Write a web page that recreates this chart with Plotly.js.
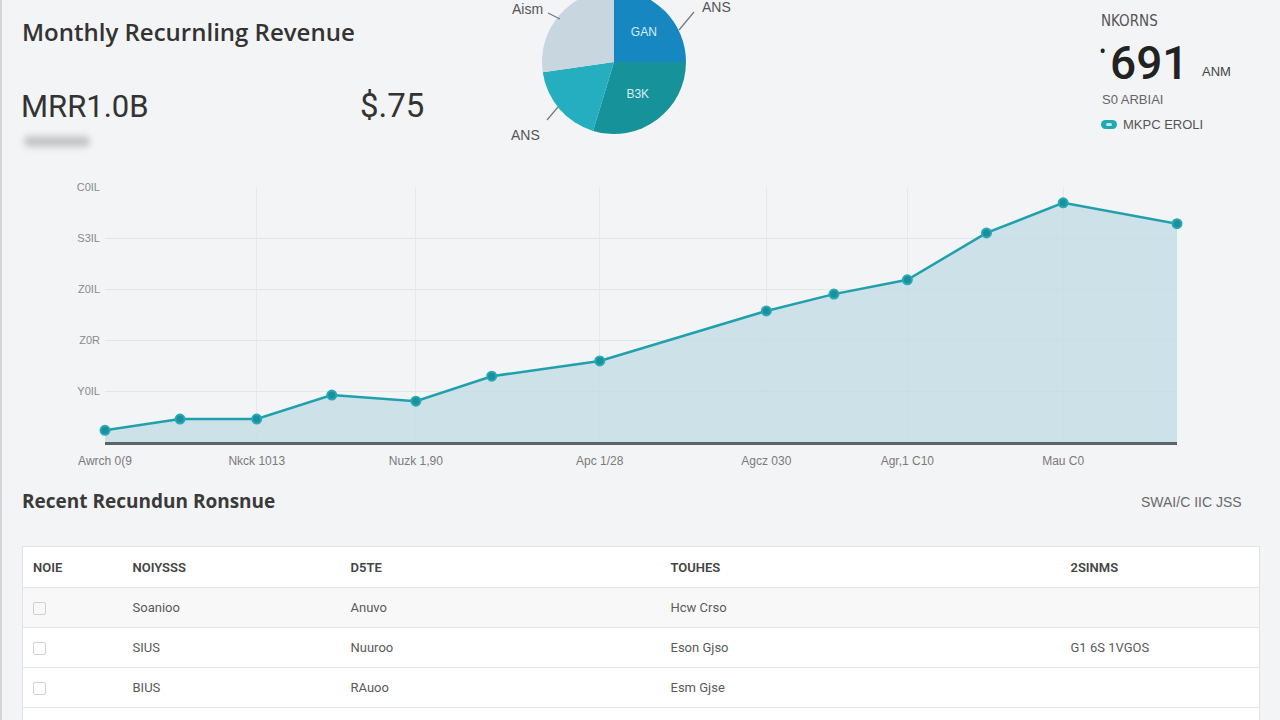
<!DOCTYPE html>
<html>
<head>
<meta charset="utf-8">
<script src="https://cdn.plot.ly/plotly-3.0.1.min.js"></script>
<style>
  html, body { margin:0; padding:0; width:1280px; height:720px; overflow:hidden; background:#f3f4f5; font-family:"Open Sans", Roboto, sans-serif; }
  #page { position:absolute; left:0; top:0; width:1280px; height:720px; border-left:2px solid #d4d6d8; box-sizing:border-box; }
  #chart { position:absolute; left:0; top:-12px; width:1280px; height:744px; }
  .t { position:absolute; white-space:nowrap; line-height:1; }
  table { position:absolute; left:20px; top:546px; width:1238px; border-collapse:collapse; table-layout:fixed; background:#fff; border:1px solid #e0e2e4; font-family:Roboto, sans-serif; }
  td, th { height:39px; padding:0; text-align:left; border-bottom:1px solid #e3e5e7; font-size:13px; color:#5a5a5a; }
  th { height:40px; font-weight:600; color:#444; }
  td:first-child, th:first-child { padding-left:10px; }
  tr.alt td { background:#f8f8f8; }
  .cb { display:inline-block; width:11px; height:11px; border:1px solid #cfd2d4; border-radius:2px; vertical-align:middle; }
</style>
</head>
<body>
<div id="page">
  <div id="chart"></div>
  <div class="t" style="left:20px;top:20px;font-size:24px;font-weight:600;color:#333;">Monthly Recurnling Revenue</div>
  <div class="t" style="left:19px;top:91px;font-size:31px;font-family:Roboto;color:#333;">MRR1.0B</div>
  <div class="t" style="left:358px;top:89px;font-size:33px;font-family:Roboto;color:#333;">$.75</div>
  <div style="position:absolute;left:22px;top:136px;width:66px;height:11px;background:#c4c6c8;border-radius:5px;filter:blur(3px);"></div>

  <div class="t" style="left:1099px;top:14px;font-size:15px;color:#555;font-family:'DejaVu Sans Condensed','Liberation Sans Narrow',sans-serif;">NKORNS</div>
  <div class="t" style="left:1098px;top:44px;font-size:14px;color:#222;font-weight:700;">•</div>
  <div class="t" style="left:1108px;top:40px;font-size:46px;font-weight:500;color:#222;font-family:Roboto;">691</div>
  <div class="t" style="left:1200px;top:65px;font-size:13px;color:#444;font-family:'Liberation Sans Narrow',sans-serif;">ANM</div>
  <div class="t" style="left:1100px;top:93px;font-size:13px;color:#666;font-family:'Liberation Sans Narrow',sans-serif;">S0 ARBIAI</div>
  <div style="position:absolute;left:1099px;top:120px;width:16px;height:9px;border-radius:5px;background:#1ea9b3;"></div>
  <div style="position:absolute;left:1104px;top:123px;width:6px;height:3px;border-radius:2px;background:#bfe9ee;"></div>
  <div class="t" style="left:1121px;top:118px;font-size:13px;color:#555;font-family:'Liberation Sans Narrow',sans-serif;">MKPC EROLI</div>

  <div class="t" style="left:20px;top:492px;font-size:19px;font-weight:700;color:#3a3a3a;">Recent Recundun Ronsnue</div>
  <div class="t" style="left:1139px;top:495px;font-size:14px;color:#6a6a6a;font-family:'Liberation Sans Narrow',sans-serif;">SWAI/C IIC JSS</div>

  <table id="tbl">
    <colgroup><col style="width:110px"><col style="width:218px"><col style="width:320px"><col style="width:400px"><col></colgroup>
  </table>
</div>
<script>
// ---- line chart data ----
const xPos   = [0, 0.91, 1.84, 2.75, 3.77, 4.69, 6.0, 8.02, 8.84, 9.73, 10.69, 11.62, 13];
const mrr    = [23, 45, 45, 92, 80, 129, 159, 257, 290, 318, 410, 469, 428];
const xTickVals  = [0, 1.84, 3.77, 6.0, 8.02, 9.73, 11.62];
const xTickText  = ["Awrch 0(9", "Nkck 1013", "Nuzk 1,90", "Apc 1/28", "Agcz 030", "Agr,1 C10", "Mau C0"];
const yTickVals  = [100, 200, 300, 400, 500];
const yTickText  = ["Y0IL", "Z0R", "Z0IL", "S3IL", "C0IL"];

// ---- pie data ----
const pieLabels = ["GAN", "B3K", "ANS", "Aism"];
const pieValues = [25, 29.7, 18, 27.3];
const pieText   = ["GAN", "B3K", "", ""];
const pieColors = ["#1787c2", "#16939a", "#25adc0", "#c8d6df"];

// ---- table data ----
const tblHeader = ["NOIE", "NOIYSSS", "D5TE", "TOUHES", "2SINMS"];
const tblCol2 = ["Soanioo", "SIUS", "BIUS", ""];
const tblCol3 = ["Anuvo", "Nuuroo", "RAuoo", ""];
const tblCol4 = ["Hcw Crso", "Eson Gjso", "Esm Gjse", ""];
const tblCol5 = ["", "G1 6S 1VGOS", "", ""];

// build table
const tbl = document.getElementById('tbl');
let html = '<tr>' + tblHeader.map(h => '<th>' + h + '</th>').join('') + '</tr>';
for (let i = 0; i < tblCol2.length; i++) {
  html += '<tr' + (i === 0 ? ' class="alt"' : '') + '><td><span class="cb"></span></td><td>' + tblCol2[i] + '</td><td>' + tblCol3[i] + '</td><td>' + tblCol4[i] + '</td><td>' + tblCol5[i] + '</td></tr>';
}
tbl.insertAdjacentHTML('beforeend', html);

// page pixel -> paper helpers (figure is 1280x744, shifted up 12px)
const W = 1280, H = 744, OFF = 12;
const px = X => X / W;
const py = Y => 1 - (Y + OFF) / H;

const traces = [
  {
    type: 'scatter', mode: 'lines+markers', x: xPos, y: mrr,
    fill: 'tozeroy', fillcolor: 'rgba(196,222,229,0.85)',
    line: { color: '#20a0ad', width: 2.5 },
    marker: { size: 9, color: '#1b8f9c', line: { color: '#25aab6', width: 2 } },
    cliponaxis: false, hoverinfo: 'skip'
  },
  {
    type: 'pie', labels: pieLabels, values: pieValues, text: pieText,
    textinfo: 'text', textposition: 'inside', insidetextorientation: 'horizontal',
    sort: false, direction: 'clockwise', rotation: 0,
    marker: { colors: pieColors, line: { width: 0 } },
    textfont: { color: '#d7eef4', size: 12, family: 'Liberation Sans Narrow, sans-serif' },
    domain: { x: [px(540), px(684)], y: [py(134), py(-10)] },
    showlegend: false, hoverinfo: 'skip'
  }
];

const lblFont = { family: 'Liberation Sans Narrow, Liberation Sans, sans-serif', size: 14, color: '#555' };
const layout = {
  width: W, height: H,
  margin: { l: 0, r: 0, t: 0, b: 0 },
  paper_bgcolor: 'rgba(0,0,0,0)', plot_bgcolor: 'rgba(0,0,0,0)',
  showlegend: false,
  xaxis: {
    domain: [px(103), px(1175)], range: [0, 13],
    tickvals: xTickVals, ticktext: xTickText, ticks: '', ticklabelstandoff: 6,
    tickfont: { family: 'Liberation Sans Narrow, sans-serif', size: 12, color: '#7a7a7a' },
    showgrid: true, gridcolor: '#e6e8ea', gridwidth: 1,
    showline: true, linecolor: '#5c6469', linewidth: 2.5, zeroline: false, fixedrange: true
  },
  yaxis: {
    domain: [py(442), py(187)], range: [0, 500],
    tickvals: yTickVals, ticktext: yTickText, ticks: '', ticklabelstandoff: 4,
    tickfont: { family: 'Liberation Sans Narrow, sans-serif', size: 11, color: '#8a8a8a' },
    showgrid: true, gridcolor: '#e3e5e7', gridwidth: 1,
    zeroline: false, showline: false, fixedrange: true
  },
  annotations: [
    { xref: 'paper', yref: 'paper', x: px(525), y: py(9), xanchor: 'center', yanchor: 'middle', text: 'Aism', showarrow: false, font: lblFont },
    { xref: 'paper', yref: 'paper', x: px(714), y: py(7), xanchor: 'center', yanchor: 'middle', text: 'ANS', showarrow: false, font: lblFont },
    { xref: 'paper', yref: 'paper', x: px(523), y: py(135), xanchor: 'center', yanchor: 'middle', text: 'ANS', showarrow: false, font: lblFont }
  ],
  shapes: [
    { type: 'line', xref: 'paper', yref: 'paper', x0: px(546), y0: py(13), x1: px(558), y1: py(19), line: { color: '#777', width: 1.2 } },
    { type: 'line', xref: 'paper', yref: 'paper', x0: px(692), y0: py(12), x1: px(677), y1: py(30), line: { color: '#777', width: 1.2 } },
    { type: 'line', xref: 'paper', yref: 'paper', x0: px(545), y0: py(120), x1: px(556), y1: py(107), line: { color: '#777', width: 1.2 } }
  ]
};

Plotly.newPlot('chart', traces, layout, { displayModeBar: false, staticPlot: true });
</script>
</body>
</html>
